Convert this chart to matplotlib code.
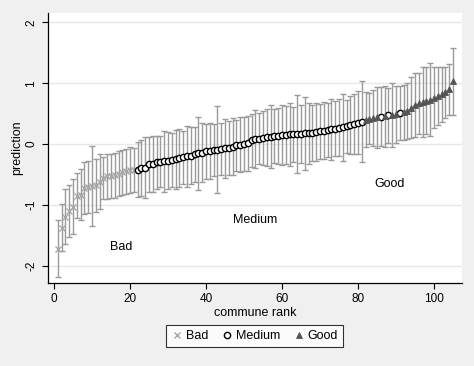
import numpy as np
import matplotlib.pyplot as plt

plt.rcParams['font.family'] = ['Liberation Sans', 'DejaVu Sans']

# predicted values by commune rank (1..105)
pred = [-1.72, -1.37, -1.19, -1.10, -1.03, -0.85, -0.83, -0.72, -0.70, -0.69,
        -0.68, -0.62, -0.56, -0.53, -0.52, -0.51, -0.49, -0.46, -0.45, -0.43,
        -0.43, -0.42, -0.40, -0.39, -0.33, -0.32, -0.30, -0.29, -0.28, -0.27,
        -0.26, -0.25, -0.23, -0.22, -0.20, -0.19, -0.17, -0.15, -0.14, -0.12,
        -0.11, -0.10, -0.09, -0.08, -0.07, -0.06, -0.04, -0.02, -0.01, 0.00,
        0.01, 0.06, 0.08, 0.09, 0.10, 0.11, 0.12, 0.13, 0.14, 0.15,
        0.15, 0.16, 0.16, 0.17, 0.17, 0.18, 0.18, 0.19, 0.20, 0.21,
        0.22, 0.23, 0.24, 0.25, 0.27, 0.28, 0.29, 0.31, 0.33, 0.35,
        0.37, 0.40, 0.42, 0.43, 0.44, 0.45, 0.46, 0.47, 0.48, 0.49,
        0.51, 0.52, 0.55, 0.60, 0.64, 0.67, 0.69, 0.71, 0.73, 0.76,
        0.79, 0.82, 0.85, 0.90, 1.03]

# half-width of the interval bars
ci = [0.47, 0.38, 0.45, 0.42, 0.45, 0.37, 0.42, 0.42, 0.43, 0.66,
      0.43, 0.45, 0.35, 0.37, 0.36, 0.37, 0.37, 0.37, 0.37, 0.38,
      0.36, 0.45, 0.46, 0.50, 0.45, 0.46, 0.44, 0.42, 0.50, 0.47,
      0.44, 0.48, 0.47, 0.43, 0.50, 0.47, 0.45, 0.60, 0.48, 0.45,
      0.46, 0.43, 0.72, 0.42, 0.48, 0.44, 0.47, 0.42, 0.45, 0.44,
      0.45, 0.43, 0.48, 0.42, 0.44, 0.47, 0.52, 0.44, 0.46, 0.50,
      0.48, 0.52, 0.45, 0.64, 0.48, 0.60, 0.50, 0.46, 0.48, 0.45,
      0.47, 0.44, 0.50, 0.45, 0.47, 0.55, 0.44, 0.48, 0.50, 0.52,
      0.66, 0.45, 0.42, 0.46, 0.50, 0.48, 0.50, 0.45, 0.52, 0.47,
      0.44, 0.45, 0.46, 0.50, 0.52, 0.50, 0.58, 0.55, 0.60, 0.50,
      0.48, 0.45, 0.42, 0.42, 0.55]

# class of each commune
group = (['Bad'] * 21 + ['Medium'] * 60 + ['Good'] * 4 + ['Medium', 'Good', 'Medium', 'Good', 'Good', 'Medium']
         + ['Good'] * 14)

rank = np.arange(1, len(pred) + 1)
pred = np.array(pred)
ci = np.array(ci)
group = np.array(group)

fig = plt.figure(figsize=(4.74, 3.66), dpi=100, facecolor='#f0f0f0')
ax = fig.add_axes([0.101, 0.227, 0.874, 0.737])
ax.set_facecolor('white')

ax.errorbar(rank, pred, yerr=ci, fmt='none', ecolor='#9a9a9a', elinewidth=1, capsize=2.5, capthick=1, zorder=2)

styles = {
    'Bad': dict(marker='x', color='#a8a8a8', ms=4, mew=1, mfc='none'),
    'Medium': dict(marker='o', color='black', ms=4.5, mew=1, mfc='white'),
    'Good': dict(marker='^', color='#555555', ms=5, mew=0.6, mfc='#555555'),
}
for g in ['Bad', 'Medium', 'Good']:
    m = group == g
    ax.plot(rank[m], pred[m], linestyle='none', label=g, zorder=3, **styles[g])

ax.text(17.6, -1.69, 'Bad', fontsize=9, ha='center', va='center')
ax.text(53, -1.25, 'Medium', fontsize=9, ha='center', va='center')
ax.text(88.4, -0.66, 'Good', fontsize=9, ha='center', va='center')

ax.set_xlim(-1.6, 107.4)
ax.set_ylim(-2.28, 2.15)
ax.set_xticks([0, 20, 40, 60, 80, 100])
ax.set_yticks([-2, -1, 0, 1, 2])
ax.set_yticklabels(['-2', '-1', '0', '1', '2'], rotation=90, va='center')
ax.tick_params(labelsize=8.5, direction='out', length=4, width=0.8)
ax.grid(axis='y', color='#e8e8e8', linewidth=1)
ax.set_axisbelow(True)
for s in ['top', 'right']:
    ax.spines[s].set_visible(False)
for s in ['left', 'bottom']:
    ax.spines[s].set_linewidth(0.9)

ax.set_xlabel('commune rank', fontsize=9, labelpad=1)
ax.set_ylabel('prediction', fontsize=9, labelpad=2)

leg = fig.legend(loc='center', bbox_to_anchor=(0.537, 0.082), ncol=3, fontsize=9, frameon=True,
                 fancybox=False, edgecolor='black', handletextpad=0.2, columnspacing=1.0,
                 handlelength=1.0, borderpad=0.4)
leg.get_frame().set_linewidth(0.8)
leg.get_frame().set_facecolor('white')

plt.savefig('out.png', dpi=100, facecolor=fig.get_facecolor())
